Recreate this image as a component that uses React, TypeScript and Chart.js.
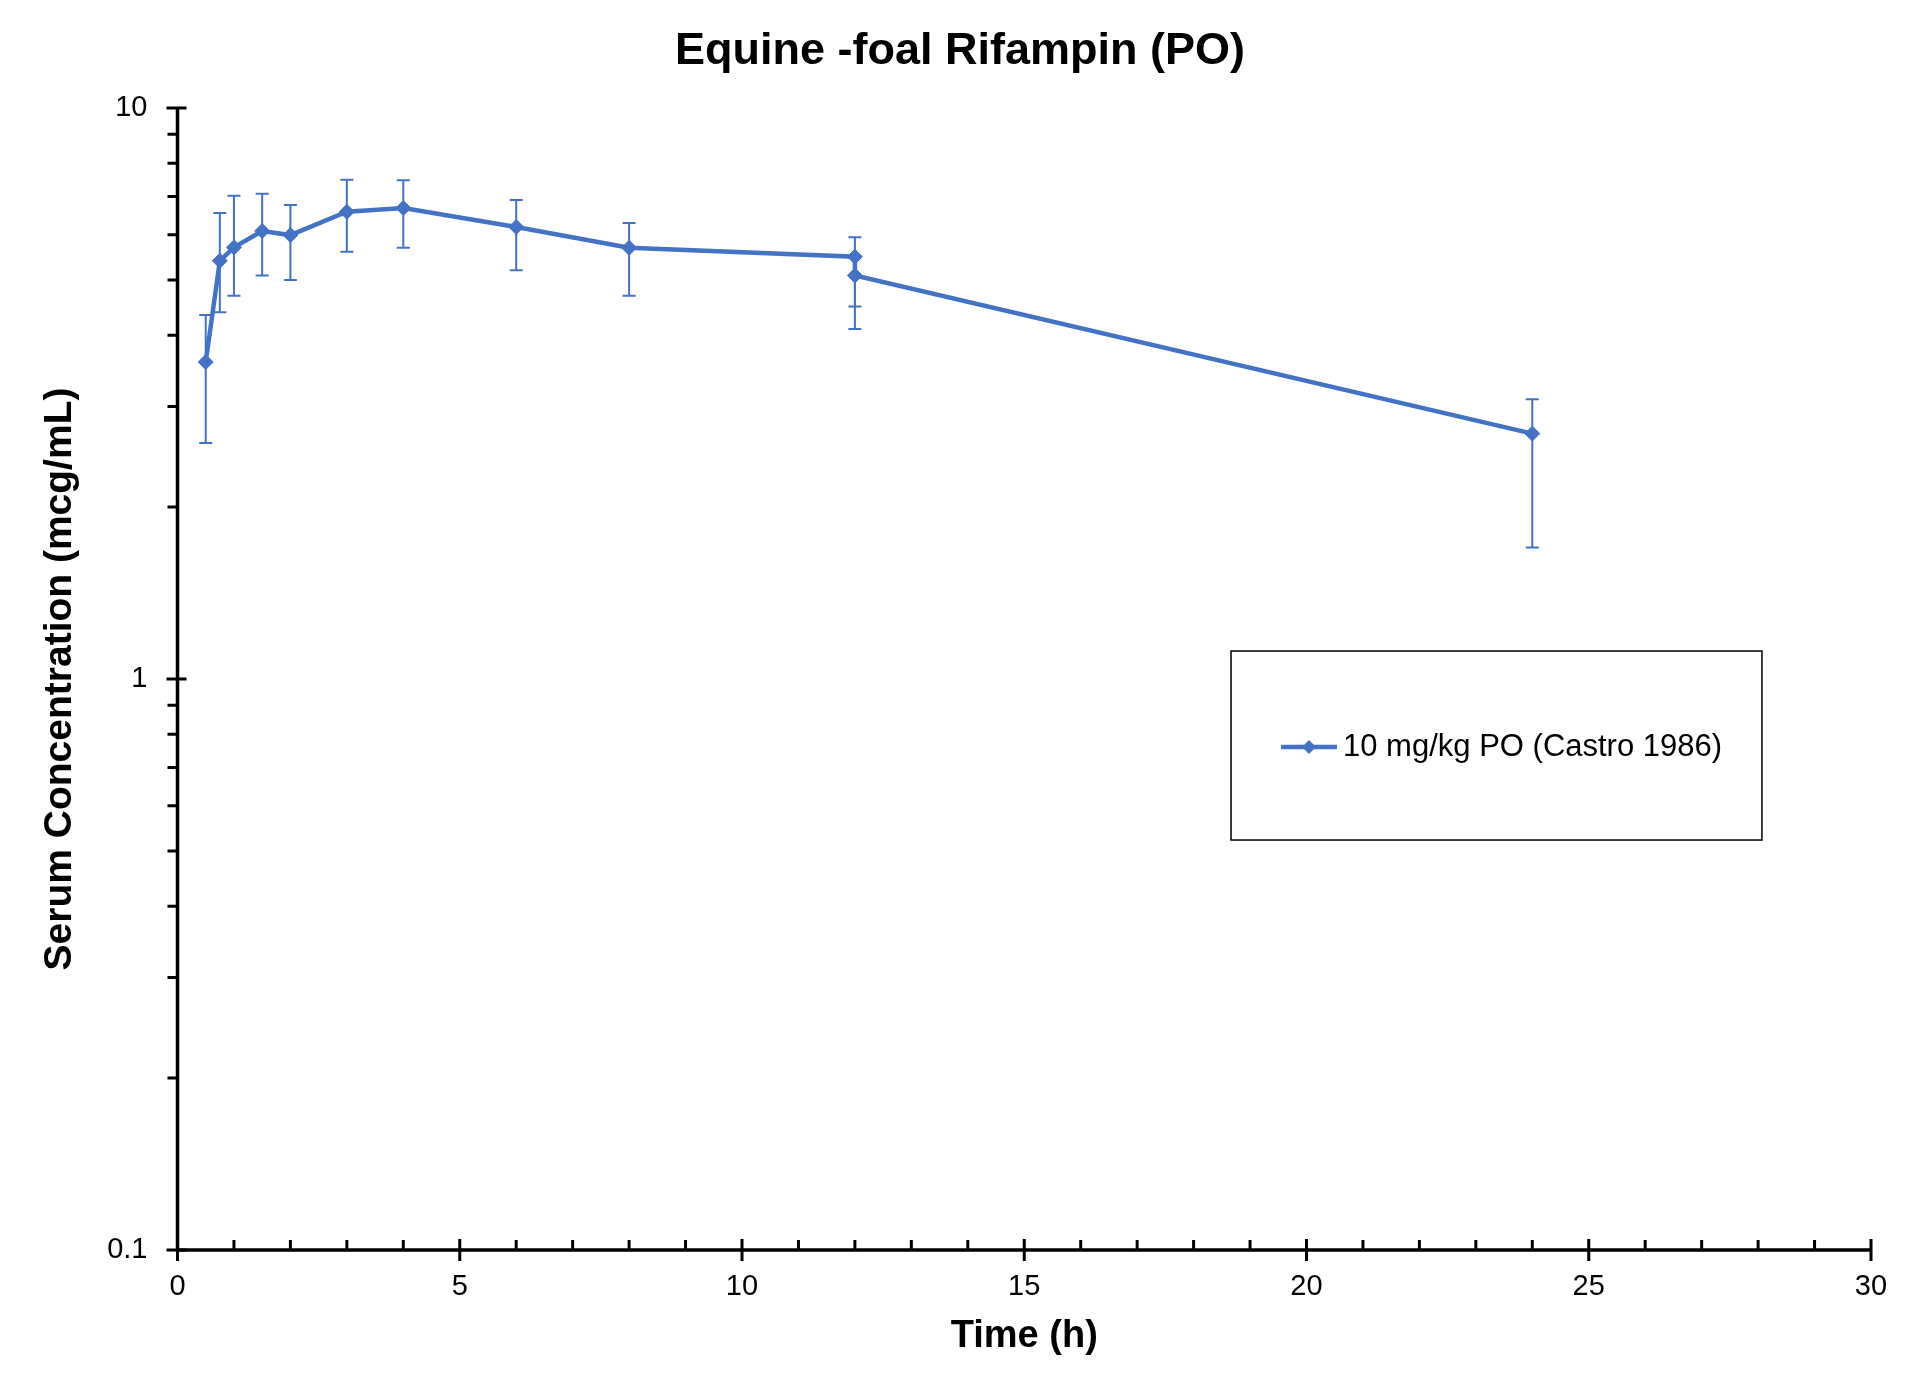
import React, { useEffect, useRef } from 'react';
import { Chart, registerables } from 'chart.js';

Chart.register(...registerables);

// ---- data ----
const chartTitle = 'Equine -foal Rifampin (PO)';
const seriesLabel = '10 mg/kg PO (Castro 1986)';
const xAxisTitle = 'Time (h)';
const yAxisTitle = 'Serum Concentration (mcg/mL)';

const timeH = [0.5, 0.75, 1, 1.5, 2, 3, 4, 6, 8, 12, 12, 24];
const meanConc = [3.59, 5.4, 5.7, 6.09, 5.99, 6.58, 6.68, 6.19, 5.69, 5.49, 5.09, 2.69];
const upperConc = [4.34, 6.55, 7.02, 7.08, 6.76, 7.49, 7.47, 6.9, 6.29, 5.94, 5.49, 3.09];
const lowerConc = [2.59, 4.39, 4.69, 5.09, 5.0, 5.6, 5.69, 5.2, 4.69, 4.49, 4.1, 1.7];

const xTickValues = [0, 5, 10, 15, 20, 25, 30];
const yTickValues = [0.1, 1, 10];

// ---- styles ----
const BLUE = '#4472C4';
const FONT = "'Liberation Sans', Arial, Helvetica, sans-serif";

const errorBarPlugin = {
  id: 'errorBars',
  beforeDatasetsDraw(chart: any) {
    const { ctx } = chart;
    const x = chart.scales.x;
    const y = chart.scales.y;
    ctx.save();
    ctx.strokeStyle = BLUE;
    ctx.lineWidth = 2;
    const cap = 6.5;
    for (let i = 0; i < timeH.length; i++) {
      const px = x.getPixelForValue(timeH[i]);
      const pHi = y.getPixelForValue(upperConc[i]);
      const pLo = y.getPixelForValue(lowerConc[i]);
      ctx.beginPath();
      ctx.moveTo(px, pHi);
      ctx.lineTo(px, pLo);
      ctx.moveTo(px - cap, pHi);
      ctx.lineTo(px + cap, pHi);
      ctx.moveTo(px - cap, pLo);
      ctx.lineTo(px + cap, pLo);
      ctx.stroke();
    }
    ctx.restore();
  },
};

const axesPlugin = {
  id: 'excelAxes',
  afterDraw(chart: any) {
    const { ctx, chartArea } = chart;
    const x = chart.scales.x;
    const y = chart.scales.y;
    const L = chartArea.left;
    const B = chartArea.bottom;
    ctx.save();
    ctx.strokeStyle = '#000';
    ctx.lineCap = 'butt';
    ctx.lineWidth = 3.5;
    ctx.beginPath();
    ctx.moveTo(L, chartArea.top);
    ctx.lineTo(L, B + 1.75);
    ctx.moveTo(L - 1.75, B);
    ctx.lineTo(chartArea.right, B);
    ctx.stroke();

    ctx.lineWidth = 3;
    ctx.beginPath();
    // x major ticks (cross)
    for (const v of xTickValues) {
      const px = x.getPixelForValue(v);
      ctx.moveTo(px, B - 11);
      ctx.lineTo(px, B + 11);
    }
    // x minor ticks (inside)
    for (let v = Math.ceil(x.min); v <= x.max; v += 1) {
      if (v % 5 === 0) continue;
      const px = x.getPixelForValue(v);
      ctx.moveTo(px, B);
      ctx.lineTo(px, B - 10);
    }
    // y major ticks (cross)
    for (const v of yTickValues) {
      const py = y.getPixelForValue(v);
      ctx.moveTo(L - 11, py);
      ctx.lineTo(L + 9, py);
    }
    // y minor ticks (outside)
    for (let d = 0; d < yTickValues.length - 1; d++) {
      const base = yTickValues[d];
      for (let k = 2; k <= 9; k++) {
        const py = y.getPixelForValue(base * k);
        ctx.moveTo(L - 10, py);
        ctx.lineTo(L, py);
      }
    }
    ctx.stroke();
    ctx.restore();
  },
};

const legendPlugin = {
  id: 'boxLegend',
  afterDraw(chart: any) {
    const { ctx, chartArea } = chart;
    const w = chartArea.right - chartArea.left;
    const h = chartArea.bottom - chartArea.top;
    const bx0 = chartArea.left + 0.6221 * w;
    const bx1 = chartArea.left + 0.9356 * w;
    const by0 = chartArea.top + 0.4755 * h;
    const by1 = chartArea.top + 0.641 * h;
    ctx.save();
    ctx.fillStyle = '#fff';
    ctx.fillRect(bx0, by0, bx1 - bx0, by1 - by0);
    ctx.strokeStyle = '#000';
    ctx.lineWidth = 1.5;
    ctx.strokeRect(bx0, by0, bx1 - bx0, by1 - by0);

    const cy = (by0 + by1) / 2 + 1.5;
    const lx0 = bx0 + 50;
    const lx1 = lx0 + 56;
    ctx.strokeStyle = BLUE;
    ctx.lineWidth = 4.5;
    ctx.beginPath();
    ctx.moveTo(lx0, cy);
    ctx.lineTo(lx1, cy);
    ctx.stroke();
    const mx = (lx0 + lx1) / 2;
    const r = 7;
    ctx.fillStyle = BLUE;
    ctx.beginPath();
    ctx.moveTo(mx - r, cy);
    ctx.lineTo(mx, cy - r);
    ctx.lineTo(mx + r, cy);
    ctx.lineTo(mx, cy + r);
    ctx.closePath();
    ctx.fill();

    ctx.fillStyle = '#000';
    ctx.font = `31px ${FONT}`;
    ctx.textBaseline = 'middle';
    ctx.textAlign = 'left';
    ctx.fillText(seriesLabel, lx1 + 6, cy);
    ctx.restore();
  },
};

export default function App() {
  const canvasRef = useRef<HTMLCanvasElement | null>(null);

  useEffect(() => {
    if (!canvasRef.current) return;
    const chart = new Chart(canvasRef.current, {
      type: 'line',
      data: {
        datasets: [
          {
            label: seriesLabel,
            data: timeH.map((t, i) => ({ x: t, y: meanConc[i] })),
            borderColor: BLUE,
            backgroundColor: BLUE,
            borderWidth: 4.5,
            pointStyle: 'rectRot',
            pointRadius: 7.5,
            pointBorderWidth: 1,
            pointBackgroundColor: BLUE,
            pointBorderColor: BLUE,
            tension: 0,
            fill: false,
          },
        ],
      },
      options: {
        responsive: false,
        animation: false,
        devicePixelRatio: 1,
        layout: { padding: 0 },
        plugins: {
          legend: { display: false },
          tooltip: { enabled: false },
          title: {
            display: true,
            text: chartTitle,
            color: '#000',
            font: { family: FONT, size: 45, weight: 'bold' },
            padding: { top: 24.5, bottom: 29.5 },
          },
        },
        scales: {
          x: {
            type: 'linear',
            min: 0,
            max: 30,
            grid: { display: false, drawTicks: false },
            border: { display: false },
            ticks: {
              stepSize: 5,
              color: '#000',
              font: { family: FONT, size: 29 },
              padding: 20,
              maxRotation: 0,
              autoSkip: false,
            },
            title: {
              display: true,
              text: xAxisTitle,
              color: '#000',
              font: { family: FONT, size: 38, weight: 'bold' },
              padding: { top: 0, bottom: 34 },
            },
            afterFit(scale: any) {
              scale.height = 143;
            },
          },
          y: {
            type: 'logarithmic',
            min: 0.1,
            max: 10,
            grid: { display: false, drawTicks: false },
            border: { display: false },
            ticks: {
              autoSkip: false,
              color: '#000',
              font: { family: FONT, size: 29 },
              padding: 30,
              callback: (value: any) => {
                const v = Number(value);
                const hit = yTickValues.find((t) => Math.abs(t - v) / t < 1e-6);
                return hit !== undefined ? String(hit) : '';
              },
            },
            title: {
              display: true,
              text: yAxisTitle,
              color: '#000',
              font: { family: FONT, size: 39, weight: 'bold' },
              padding: { top: 37, bottom: 0 },
            },
            afterFit(scale: any) {
              scale.width = 177.5;
            },
          },
          yRightSpacer: {
            type: 'linear',
            position: 'right',
            display: true,
            grid: { display: false, drawTicks: false },
            border: { display: false },
            ticks: { display: false },
            title: { display: false },
            afterFit(scale: any) {
              scale.width = 49;
            },
          },
        },
      } as any,
      plugins: [errorBarPlugin, axesPlugin, legendPlugin],
    });
    return () => chart.destroy();
  }, []);

  return (
    <div style={{ position: 'absolute', left: 0, top: 0, width: 1920, height: 1393, background: '#fff' }}>
      <canvas ref={canvasRef} width={1920} height={1393} style={{ width: 1920, height: 1393, display: 'block' }} />
    </div>
  );
}
